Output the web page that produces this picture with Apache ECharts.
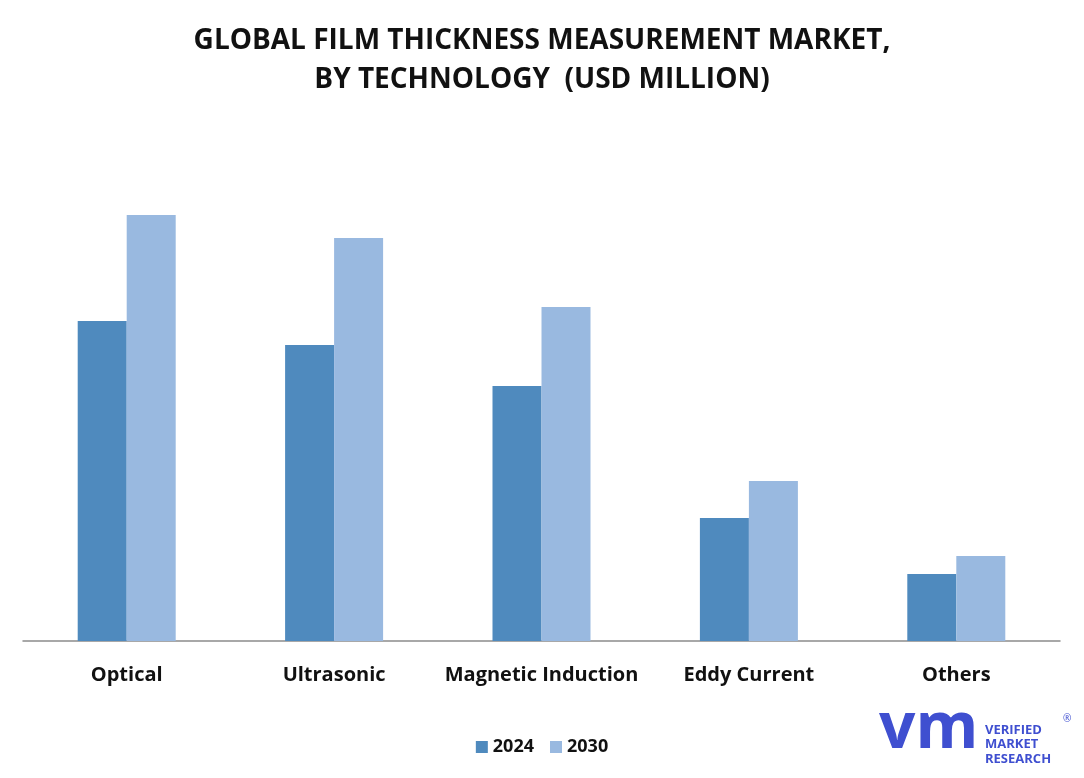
<!DOCTYPE html>
<html>
<head>
<meta charset="utf-8">
<script src="https://cdn.jsdelivr.net/npm/echarts@6/dist/echarts.min.js"></script>
<style>html,body{margin:0;padding:0;background:#fff;}#c{width:1084px;height:778px;}</style>
</head>
<body>
<div id="c"></div>
<script>
const categories = ['Optical', 'Ultrasonic', 'Magnetic Induction', 'Eddy Current', 'Others'];
const values2024 = [320, 296, 255, 123, 67];
const values2030 = [426, 403, 334, 160, 85];
const seriesNames = ['2024', '2030'];
const titleText = 'GLOBAL FILM THICKNESS MEASUREMENT MARKET,\nBY TECHNOLOGY  (USD MILLION)';

const chart = echarts.init(document.getElementById('c'));
const font = '"Open Sans", "Noto Sans", sans-serif';
chart.setOption({
  backgroundColor: '#fff',
  animation: false,
  title: {
    text: titleText,
    left: 'center', top: 17,
    textStyle: { fontFamily: font, fontWeight: 'bold', fontSize: 28, color: '#111', lineHeight: 39 }
  },
  legend: {
    data: seriesNames,
    bottom: 17, left: 'center',
    itemWidth: 12, itemHeight: 12, itemGap: 16, icon: 'rect',
    textStyle: { fontFamily: font, fontWeight: 'bold', fontSize: 18, color: '#111' }
  },
  grid: { left: 23, right: 24, top: 141, bottom: 137 },
  xAxis: {
    type: 'category', data: categories,
    axisLine: { lineStyle: { color: '#8c8c8c', width: 1.5 } },
    axisTick: { show: false },
    axisLabel: { interval: 0, fontFamily: font, fontWeight: 'bold', fontSize: 20, color: '#111', margin: 24 }
  },
  yAxis: { type: 'value', min: 0, max: 500, show: false, splitLine: { show: false } },
  series: [
    { name: seriesNames[0], type: 'bar', data: values2024, barWidth: 49, barGap: '0%', itemStyle: { color: '#4F8ABE' } },
    { name: seriesNames[1], type: 'bar', data: values2030, barWidth: 49, barGap: '0%', itemStyle: { color: '#99B9E0' } }
  ],
  graphic: [
    { type: 'text', left: 879, top: 698, style: { text: 'vm', fontFamily: font, fontWeight: 'bold', fontSize: 64, fill: '#3F4FD0' } },
    { type: 'text', left: 985, top: 723, style: { text: 'VERIFIED\nMARKET\nRESEARCH', fontFamily: font, fontWeight: 'bold', fontSize: 13, lineHeight: 14.5, fill: '#3F4FD0' } },
    { type: 'text', left: 1063, top: 714, style: { text: '®', fontFamily: font, fontSize: 10, fill: '#3F4FD0' } }
  ]
});
</script>
</body>
</html>
